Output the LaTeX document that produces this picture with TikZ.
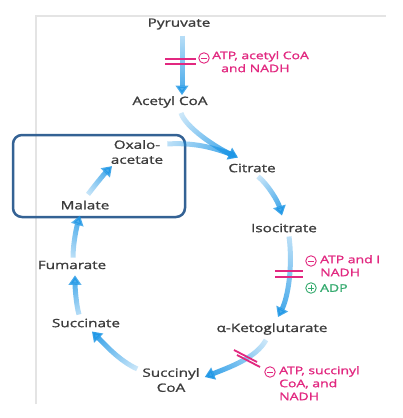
\documentclass[tikz,border=0pt]{standalone}
\usepackage{fontspec}
\newfontfamily\labfont{Open Sans}[FakeStretch=1.33, FakeBold=1.3]
\usetikzlibrary{arrows.meta,calc,fadings}
\definecolor{flowblue}{RGB}{28,150,230}
\definecolor{labgray}{RGB}{60,60,60}
\definecolor{inhib}{RGB}{226,40,128}
\definecolor{activ}{RGB}{52,170,110}
\definecolor{boxblue}{RGB}{52,98,148}
\definecolor{framegray}{RGB}{228,228,228}
\tikzfading[name=flowfade, left color=transparent!85, right color=transparent!0]
\begin{document}
\begin{tikzpicture}[x=1pt,y=-1pt,
  metab/.style={font=\labfont\fontsize{11.5}{15}\selectfont, text=labgray, inner sep=1pt, align=center},
  note/.style={font=\labfont\fontsize{10.5}{13}\selectfont, text=inhib, inner sep=0pt, align=left, anchor=north west},
  flow/.style={line width=5pt, draw=flowblue, -{Triangle[width=12.5pt,length=9.5pt]}, path fading=flowfade, fading transform={rotate=#1, scale=1.5}},
  flowtail/.style={line width=5pt, draw=flowblue, path fading=flowfade, fading transform={rotate=#1, scale=1.5}},
  bar/.style={draw=inhib, line width=1.8pt},
  sign/.style={circle, draw=#1, line width=0.9pt, minimum size=10.5pt, inner sep=0pt},
  signline/.style={draw=#1, line width=0.9pt},
]
\useasboundingbox (0,0) rectangle (402,418);
\fill[white] (0,0) rectangle (402,418);

% slide frame
\draw[framegray, line width=1.5pt] (36,404) -- (36,16) -- (386,16);

% metabolites
\node[metab] (pyr)  at (179,24)  {Pyruvate};
\node[metab] (acoa) at (170,102) {Acetyl CoA};
\node[metab] (oaa)  at (137,152) {Oxalo-\\acetate};
\node[metab] (cit)  at (252,168) {Citrate};
\node[metab] (iso)  at (284,228) {Isocitrate};
\node[metab] (akg)  at (272,329) {α-Ketoglutarate};
\node[metab] (scoa) at (171,380) {Succinyl\\CoA};
\node[metab] (succ) at (86,323)  {Succinate};
\node[metab] (fum)  at (72,265)  {Fumarate};
\node[metab] (mal)  at (85,205)  {Malate};

% highlight box
\node[draw=boxblue, line width=2.5pt, rounded corners=9pt, minimum width=172pt, minimum height=82pt, inner sep=0pt] (hl) at (99,176) {};

% flux arrows
\draw[flow=-90] ($(pyr.south)+(3,5)$) -- ($(acoa.north)+(12,0)$);
\draw[flowtail=-9] ($(oaa.east)+(3,-8)$) .. controls +(30,-2) and +(-15,-6) .. ($(cit.north)+(-18,-7)$);
\draw[flow=-37] ($(acoa.south)+(11,4)$) .. controls +(4,14) and +(-22,-10) .. ($(cit.north)+(-14,-5)$);
\draw[flow=-56] ($(cit.south)+(6,3)$) .. controls +(10,8) and +(-4,-14) .. ($(iso.north)+(-2,-7)$);
\draw[flow=-98] ($(iso.south)+(5,3)$) .. controls +(4,30) and +(10,-20) .. ($(akg.north)+(6,-5)$);
\draw[flow=-147] ($(akg.south)+(-6,4)$) .. controls +(-10,18) and +(25,-10) .. ($(scoa.east)+(4,-3)$);
\draw[flow=139] ($(scoa.north west)+(-4,2)$) .. controls +(-18,-8) and +(12,12) .. ($(succ.south)+(6,3)$);
\draw[flow=96] ($(succ.north)+(-7,-3)$) .. controls +(-3,-10) and +(0,10) .. ($(fum.south)+(3,5)$);
\draw[flow=80] ($(fum.north)+(1,-2)$) .. controls +(0,-15) and +(-3,10) .. ($(mal.south)+(-5,5)$);
\draw[flow=46] ($(mal.north)+(3,-5)$) .. controls +(6,-8) and +(-8,8) .. ($(oaa.south)+(-25,1)$);

% regulation: pyruvate dehydrogenase
\draw[bar] (165,59) -- (196,59);
\draw[bar] (165,64) -- (196,64);
\node[sign=inhib] (s1) at (204,58) {};
\draw[signline=inhib] ($(s1)+(-2.8,0)$) -- ($(s1)+(2.8,0)$);
\node[note] (n1) at (212,51) {ATP, acetyl CoA\\\hspace*{9pt}and NADH};

% regulation: isocitrate dehydrogenase
\draw[bar] (275,271) -- (303,271);
\draw[bar] (275,277) -- (303,277);
\node[sign=inhib] (s2) at (311,261) {};
\draw[signline=inhib] ($(s2)+(-2.8,0)$) -- ($(s2)+(2.8,0)$);
\node[note] (n2) at (320,255) {ATP and I\\NADH};
\node[sign=activ] (s3) at (311,288) {};
\draw[signline=activ] ($(s3)+(-2.8,0)$) -- ($(s3)+(2.8,0)$);
\draw[signline=activ] ($(s3)+(0,-2.8)$) -- ($(s3)+(0,2.8)$);
\node[note, text=activ, anchor=west] (n3) at (320,288) {ADP};

% regulation: alpha-ketoglutarate dehydrogenase
\draw[bar] (234,350) -- (257,362);
\draw[bar] (237,355) -- (260,367);
\node[sign=inhib] (s4) at (270,372) {};
\draw[signline=inhib] ($(s4)+(-2.8,0)$) -- ($(s4)+(2.8,0)$);
\node[note] (n4) at (279,366) {ATP, succinyl\\CoA, and\\NADH};
\end{tikzpicture}
\end{document}
